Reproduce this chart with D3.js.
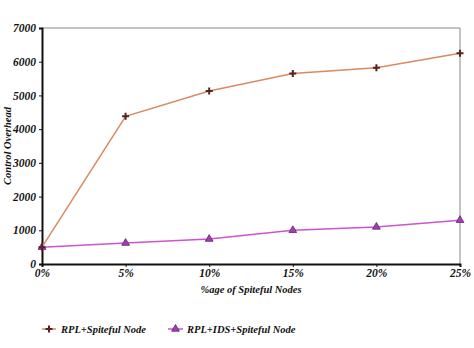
<!DOCTYPE html>
<html>
<head>
<meta charset="utf-8">
<script src="https://cdn.jsdelivr.net/npm/d3@7"></script>
<style>
  html, body { margin: 0; padding: 0; background: #fff; }
  svg text { font-family: "Liberation Serif", "DejaVu Serif", serif; font-weight: bold; font-style: italic; fill: #111; }
</style>
</head>
<body>
<svg id="chart" width="474" height="348"></svg>
<script>
// Spiteful-node share on the x axis
const categories = ["0%", "5%", "10%", "15%", "20%", "25%"];
// Control overhead per scenario
const rplSpiteful = [500, 4380, 5130, 5650, 5820, 6250];
const rplIdsSpiteful = [500, 620, 740, 1000, 1100, 1300];
const yTicks = [0, 1000, 2000, 3000, 4000, 5000, 6000, 7000];
const seriesNames = ["RPL+Spiteful Node", "RPL+IDS+Spiteful Node"];

const svg = d3.select("#chart");
const margin = { left: 42, right: 14, top: 28, bottom: 84 };
const W = 474, H = 348;

const x = d3.scalePoint().domain(categories).range([margin.left, W - margin.right]);
const y = d3.scaleLinear().domain([0, 7000]).range([H - margin.bottom, margin.top]);

// frame on the top and right
svg.append("path")
  .attr("d", `M${margin.left},${margin.top}H${W - margin.right}V${H - margin.bottom}`)
  .attr("fill", "none").attr("stroke", "#888").attr("stroke-width", 1);

// y axis
const yAxis = svg.append("g")
  .attr("transform", `translate(${margin.left},0)`)
  .call(d3.axisLeft(y).tickValues(yTicks).tickFormat(d3.format("d")).tickSize(3).tickPadding(3));
yAxis.select(".domain").attr("stroke", "#111").attr("stroke-width", 2);
yAxis.selectAll("line").attr("stroke", "#111");
yAxis.selectAll("text").attr("font-size", 11.5);

// x axis
const xAxis = svg.append("g")
  .attr("transform", `translate(0,${H - margin.bottom})`)
  .call(d3.axisBottom(x).tickSize(3).tickPadding(2));
xAxis.select(".domain").attr("stroke", "#111").attr("stroke-width", 2);
xAxis.selectAll("line").attr("stroke", "#111");
xAxis.selectAll("text").attr("font-size", 11.5);

// axis titles
svg.append("text")
  .attr("x", (margin.left + W - margin.right) / 2).attr("y", 293)
  .attr("text-anchor", "middle").attr("font-size", 10.5)
  .text("%age of Spiteful Nodes");
svg.append("text")
  .attr("transform", `translate(11,${(margin.top + H - margin.bottom) / 2}) rotate(-90)`)
  .attr("text-anchor", "middle").attr("font-size", 10.5)
  .text("Control Overhead");

const line = d3.line().x((d, i) => x(categories[i])).y(d => y(d));

// series 2: triangles
svg.append("path").datum(rplIdsSpiteful)
  .attr("d", line).attr("fill", "none").attr("stroke", "#cc55cc").attr("stroke-width", 1.5);
const tri = d3.symbol().type(d3.symbolTriangle).size(26);
svg.selectAll(".tri").data(rplIdsSpiteful).enter().append("path")
  .attr("transform", (d, i) => `translate(${x(categories[i])},${y(d)})`)
  .attr("d", tri).attr("fill", "#a040b0").attr("stroke", "#6a1a7a").attr("stroke-width", 0.8);

// series 1: plus markers
svg.append("path").datum(rplSpiteful)
  .attr("d", line).attr("fill", "none").attr("stroke", "#d98a60").attr("stroke-width", 1.5);
svg.selectAll(".plus").data(rplSpiteful).enter().append("path")
  .attr("transform", (d, i) => `translate(${x(categories[i])},${y(d)})`)
  .attr("d", "M-3.5,0H3.5M0,-3.5V3.5").attr("stroke", "#5a1f1f").attr("stroke-width", 2);

// legend
const ly = 329;
const lg = svg.append("g");
lg.append("line").attr("x1", 42).attr("x2", 56).attr("y1", ly).attr("y2", ly)
  .attr("stroke", "#d98a60").attr("stroke-width", 1.5);
lg.append("path").attr("transform", `translate(49,${ly})`)
  .attr("d", "M-3.5,0H3.5M0,-3.5V3.5").attr("stroke", "#5a1f1f").attr("stroke-width", 2);
lg.append("text").attr("x", 61).attr("y", ly + 4).attr("font-size", 10.5).text(seriesNames[0]);

lg.append("line").attr("x1", 168).attr("x2", 183).attr("y1", ly).attr("y2", ly)
  .attr("stroke", "#cc55cc").attr("stroke-width", 1.5);
lg.append("path").attr("transform", `translate(175.5,${ly})`)
  .attr("d", tri).attr("fill", "#a040b0").attr("stroke", "#6a1a7a").attr("stroke-width", 0.8);
lg.append("text").attr("x", 187).attr("y", ly + 4).attr("font-size", 10.5).text(seriesNames[1]);
</script>
</body>
</html>
